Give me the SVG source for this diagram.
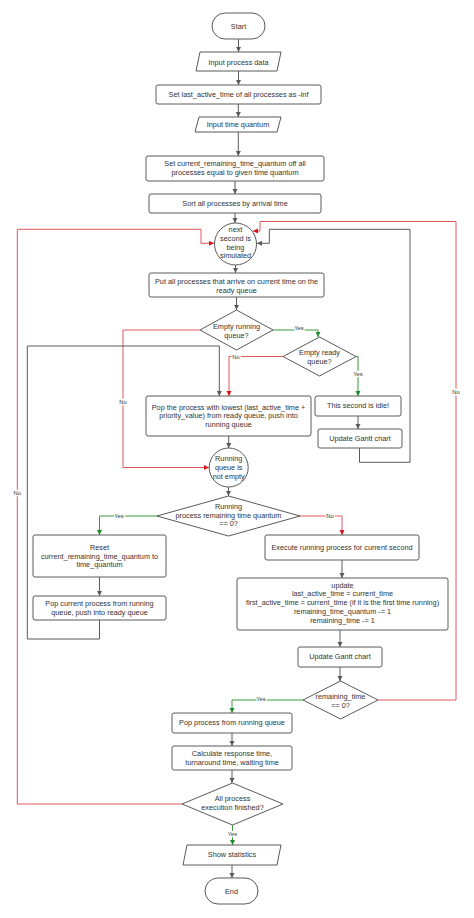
<svg xmlns="http://www.w3.org/2000/svg" width="474" height="918" viewBox="0 0 474 918">
<defs>
<style>
.n{fill:#fff;stroke:#5a5a5a;stroke-width:1}
.t{font-family:"Liberation Sans",Arial,sans-serif;font-size:7.3px;fill:#333;text-anchor:middle;dominant-baseline:central}
.c{fill:none;stroke-width:1;stroke-linejoin:round}
.g{stroke:#5a5a5a}
.r{stroke:#e0585c}
.gr{stroke:#3a9a3a}
.l{font-family:"Liberation Sans",Arial,sans-serif;font-size:5.8px;fill:#333;text-anchor:middle;dominant-baseline:central;stroke:#fff;stroke-width:2.5;paint-order:stroke}
</style>
<marker id="ag" markerUnits="userSpaceOnUse" markerWidth="6" markerHeight="6" refX="5" refY="2.5" orient="auto"><path d="M0,0 L5,2.5 L0,5 z" fill="#5a5a5a"/></marker>
<marker id="ar" markerUnits="userSpaceOnUse" markerWidth="6" markerHeight="6" refX="5" refY="2.5" orient="auto"><path d="M0,0 L5,2.5 L0,5 z" fill="#d9141a"/></marker>
<marker id="agr" markerUnits="userSpaceOnUse" markerWidth="6" markerHeight="6" refX="5" refY="2.5" orient="auto"><path d="M0,0 L5,2.5 L0,5 z" fill="#1f8a2a"/></marker>
</defs>
<rect width="474" height="918" fill="#fff"/>

<g id="connectors">
<path class="c g" marker-end="url(#ag)" d="M238.5,39 V52"/>
<path class="c g" marker-end="url(#ag)" d="M238.5,71 V85"/>
<path class="c g" marker-end="url(#ag)" d="M238.3,104 V117"/>
<path class="c g" marker-end="url(#ag)" d="M238.3,132 V156"/>
<path class="c g" marker-end="url(#ag)" d="M235,181 V194"/>
<path class="c g" marker-end="url(#ag)" d="M235,213 V223"/>
<path class="c g" marker-end="url(#ag)" d="M235.5,265 V273"/>
<path class="c g" marker-end="url(#ag)" d="M236.5,297 V310"/>
<path class="c gr" marker-end="url(#agr)" d="M273,330 H318 V337"/>
<path class="c r" marker-end="url(#ar)" d="M200,330 H123 V467.5 H209"/>
<path class="c r" marker-end="url(#ar)" d="M283,356.5 H229 V396"/>
<path class="c gr" marker-end="url(#agr)" d="M356,356.5 H358 V396"/>
<path class="c g" marker-end="url(#ag)" d="M358,416 V429"/>
<path class="c g" marker-end="url(#ag)" d="M359.5,448 V462.3 H410 V229.3 H269.3 V243.3 H257"/>
<path class="c g" marker-end="url(#ag)" d="M228.7,436 V448"/>
<path class="c g" marker-end="url(#ag)" d="M228.5,487 V496"/>
<path class="c gr" marker-end="url(#agr)" d="M157,516 H99.5 V535"/>
<path class="c r" marker-end="url(#ar)" d="M300,516 H342 V535"/>
<path class="c g" marker-end="url(#ag)" d="M99.5,577 V596"/>
<path class="c g" marker-end="url(#ag)" d="M99.5,620 V639 H27.3 V346 H219.3 V396"/>
<path class="c g" marker-end="url(#ag)" d="M342,560 V578"/>
<path class="c g" marker-end="url(#ag)" d="M340,630 V647"/>
<path class="c g" marker-end="url(#ag)" d="M340,667 V681"/>
<path class="c gr" marker-end="url(#agr)" d="M303,700 H232 V713"/>
<path class="c r" marker-end="url(#ar)" d="M378,700 H456 V221.5 H260 V231 H253"/>
<path class="c g" marker-end="url(#ag)" d="M232,733 V746"/>
<path class="c g" marker-end="url(#ag)" d="M232,770 V783"/>
<path class="c r" marker-end="url(#ar)" d="M182,804 H17.3 V229.3 H201 V243.3 H214"/>
<path class="c gr" marker-end="url(#agr)" d="M232.5,825 V845"/>
<path class="c g" marker-end="url(#ag)" d="M232,865 V878"/>
<text class="l" x="299" y="328">Yes</text>
<text class="l" x="123" y="402">No</text>
<text class="l" x="236" y="356.5">No</text>
<text class="l" x="358" y="374">Yes</text>
<text class="l" x="17.3" y="493">No</text>
<text class="l" x="456" y="392">No</text>
<text class="l" x="119" y="516">Yes</text>
<text class="l" x="330" y="516">No</text>
<text class="l" x="261" y="699">Yes</text>
<text class="l" x="232.5" y="834">Yes</text>
</g>

<g id="start"><rect class="n" x="212" y="13" width="53" height="26" rx="13"/><text class="t" x="238.5" y="26">Start</text></g>
<g id="input_data"><polygon class="n" points="200,52 281,52 277,71 196,71"/><text class="t" x="238.5" y="62">Input process data</text></g>
<g id="set_last"><rect class="n" x="156" y="85" width="165" height="19" rx="2"/><text class="t" x="238.5" y="94.5">Set last_active_time of all processes as -inf</text></g>
<g id="input_tq"><polygon class="n" points="199,117 281,117 277,132 195,132"/><text class="t" x="238" y="124.5">Input time quantum</text></g>
<g id="set_crtq"><rect class="n" x="146" y="156" width="178" height="25" rx="2"/><text class="t" x="235" y="163.5">Set current_remaining_time_quantum off all</text><text class="t" x="235" y="172.5">processes equal to given time quantum</text></g>
<g id="sort"><rect class="n" x="149" y="194" width="172" height="19" rx="2"/><text class="t" x="235" y="203.5">Sort all processes by arrival time</text></g>
<g id="next_second"><circle class="n" cx="235.5" cy="244" r="21"/><text class="t" x="235.5" y="229.5">next</text><text class="t" x="235.5" y="238.3">second is</text><text class="t" x="235.5" y="247">being</text><text class="t" x="235.5" y="255.8">simulated</text></g>
<g id="put_all"><rect class="n" x="149" y="273" width="175" height="24" rx="2"/><text class="t" x="236.5" y="281">Put all processes that arrive on current time on the</text><text class="t" x="236.5" y="290">ready queue</text></g>
<g id="empty_running"><polygon class="n" points="236.5,310 273,330 236.5,350 200,330"/><text class="t" x="236.5" y="326.5">Empty running</text><text class="t" x="236.5" y="335.3">queue?</text></g>
<g id="empty_ready"><polygon class="n" points="319.5,337 356,356.5 319.5,376 283,356.5"/><text class="t" x="319.5" y="352.3">Empty ready</text><text class="t" x="319.5" y="361">queue?</text></g>
<g id="pop_lowest"><rect class="n" x="146" y="396" width="165" height="40" rx="2"/><text class="t" x="228.5" y="407">Pop the process with lowest (last_active_time +</text><text class="t" x="228.5" y="415.5">priority_value) from ready queue, push into</text><text class="t" x="228.5" y="424">running queue</text></g>
<g id="idle"><rect class="n" x="315" y="396" width="86" height="20" rx="2"/><text class="t" x="358" y="405">This second is idle!</text></g>
<g id="gantt1"><rect class="n" x="318" y="429" width="84" height="19" rx="2"/><text class="t" x="360" y="438.5">Update Gantt chart</text></g>
<g id="running_nonempty"><circle class="n" cx="228.7" cy="467.5" r="19.5"/><text class="t" x="228.7" y="458.3">Running</text><text class="t" x="228.7" y="467.3">queue is</text><text class="t" x="228.7" y="476.2">not empty</text></g>
<g id="tq_zero"><polygon class="n" points="228.5,496 300,516 228.5,536 157,516"/><text class="t" x="228.5" y="506">Running</text><text class="t" x="228.5" y="515">process remaining time quantum</text><text class="t" x="228.5" y="523.5">== 0?</text></g>
<g id="reset"><rect class="n" x="33" y="535" width="133" height="42" rx="2"/><text class="t" x="99.5" y="547">Reset</text><text class="t" x="99.5" y="556">current_remaining_time_quantum to</text><text class="t" x="99.5" y="564.5">time_quantum</text></g>
<g id="pop_current"><rect class="n" x="33" y="596" width="133" height="24" rx="2"/><text class="t" x="99.5" y="603.3">Pop current process from running</text><text class="t" x="99.5" y="612">queue, push into ready queue</text></g>
<g id="execute"><rect class="n" x="265" y="535" width="154" height="25" rx="2"/><text class="t" x="342" y="547.5">Execute running process for current second</text></g>
<g id="update"><rect class="n" x="237" y="578" width="211" height="52" rx="2"/><text class="t" x="342.5" y="585">update</text><text class="t" x="342.5" y="593.8">last_active_time = current_time</text><text class="t" x="342.5" y="602.5">first_active_time = current_time (if it is the first time running)</text><text class="t" x="342.5" y="611.2">remaining_time_quantum -= 1</text><text class="t" x="342.5" y="620">remaining_time -= 1</text></g>
<g id="gantt2"><rect class="n" x="298" y="647" width="84" height="20" rx="2"/><text class="t" x="340" y="656.5">Update Gantt chart</text></g>
<g id="rt_zero"><polygon class="n" points="340.5,681 378,700 340.5,719 303,700"/><text class="t" x="340.5" y="696.5">remaining_time</text><text class="t" x="340.5" y="705">== 0?</text></g>
<g id="pop_running"><rect class="n" x="172" y="713" width="120" height="20" rx="2"/><text class="t" x="232" y="722.5">Pop process from running queue</text></g>
<g id="calc"><rect class="n" x="172" y="746" width="120" height="24" rx="2"/><text class="t" x="232" y="753.5">Calculate response time,</text><text class="t" x="232" y="762.3">turnaround time, waiting time</text></g>
<g id="all_finished"><polygon class="n" points="232.5,783 283,804 232.5,825 182,804"/><text class="t" x="232.5" y="798">All process</text><text class="t" x="232.5" y="807">execution finished?</text></g>
<g id="show_stats"><polygon class="n" points="187,845 281,845 277,865 183,865"/><text class="t" x="232" y="854.5">Show statistics</text></g>
<g id="end"><rect class="n" x="205" y="878" width="53" height="26" rx="13"/><text class="t" x="231.5" y="891">End</text></g>
</svg>
